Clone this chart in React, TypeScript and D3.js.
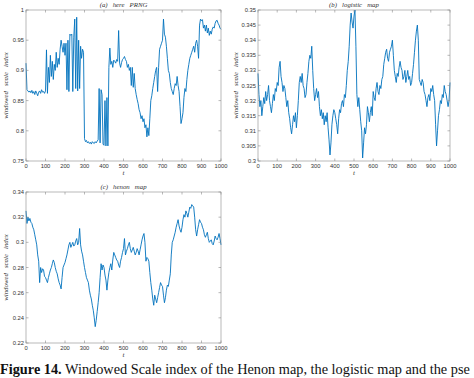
import React from "react";
import * as d3 from "d3";

const T_STEP = 5;

const prngValues = [
  0.912, 0.868, 0.866, 0.864, 0.866, 0.863, 0.867, 0.862, 0.865, 0.860,
  0.866, 0.862, 0.858, 0.864, 0.866, 0.862, 0.868, 0.864, 0.865, 0.862,
  0.866, 0.934, 0.862, 0.905, 0.880, 0.925, 0.890, 0.915, 0.885, 0.910,
  0.900, 0.930, 0.905, 0.920, 0.910, 0.935, 0.950, 0.940, 0.930, 0.945,
  0.925, 0.945, 0.868, 0.950, 0.865, 0.960, 0.958, 0.960, 0.865, 0.955,
  0.985, 0.870, 0.988, 0.866, 0.950, 0.870, 0.940, 0.920, 0.935, 0.930,
  0.787, 0.782, 0.784, 0.780, 0.782, 0.779, 0.781, 0.778, 0.782, 0.780,
  0.779, 0.782, 0.780, 0.783, 0.785, 0.870, 0.780, 0.868, 0.860, 0.778,
  0.776, 0.850, 0.775, 0.855, 0.775, 0.905, 0.937, 0.910, 0.915, 0.905,
  0.917, 0.915, 0.912, 0.918, 0.915, 0.966, 0.912, 0.905, 0.913, 0.918,
  0.920, 0.923, 0.918, 0.915, 0.905, 0.910, 0.900, 0.905, 0.875, 0.905,
  0.872, 0.895, 0.870, 0.860, 0.852, 0.845, 0.835, 0.830, 0.820, 0.825,
  0.815, 0.820, 0.805, 0.810, 0.790, 0.805, 0.792, 0.820, 0.850, 0.858,
  0.870, 0.880, 0.890, 0.900, 0.905, 0.865, 0.905, 0.935, 0.940, 0.945,
  0.950, 0.985, 0.960, 0.955, 0.940, 0.920, 0.900, 0.895, 0.880, 0.870,
  0.865, 0.860, 0.870, 0.878, 0.875, 0.890, 0.875, 0.865, 0.840, 0.812,
  0.820, 0.830, 0.855, 0.870, 0.865, 0.885, 0.900, 0.910, 0.920, 0.925,
  0.930, 0.935, 0.940, 0.930, 0.945, 0.950, 0.940, 0.920, 0.975, 0.985,
  0.982, 0.984, 0.970, 0.975, 0.965, 0.975, 0.962, 0.970, 0.958, 0.965,
  0.960, 0.968, 0.972, 0.970, 0.978, 0.982, 0.983, 0.978, 0.975, 0.970,
  0.968,
];

const logisticValues = [
  0.329, 0.322, 0.318, 0.320, 0.315, 0.318, 0.321, 0.319, 0.323, 0.320,
  0.322, 0.325, 0.320, 0.318, 0.316, 0.319, 0.322, 0.320, 0.324, 0.323,
  0.326, 0.325, 0.331, 0.333, 0.328, 0.326, 0.323, 0.325, 0.324, 0.321,
  0.318, 0.320, 0.316, 0.314, 0.311, 0.309, 0.312, 0.315, 0.313, 0.316,
  0.311, 0.315, 0.320, 0.326, 0.328, 0.326, 0.329, 0.325, 0.324, 0.321,
  0.322, 0.326, 0.329, 0.333, 0.335, 0.334, 0.338, 0.330, 0.324, 0.320,
  0.322, 0.324, 0.321, 0.323, 0.318, 0.315, 0.317, 0.314, 0.316, 0.312,
  0.315, 0.313, 0.316, 0.311, 0.307, 0.302, 0.306, 0.312, 0.315, 0.317,
  0.316, 0.314, 0.312, 0.309, 0.314, 0.317, 0.316, 0.319, 0.320, 0.318,
  0.322, 0.321, 0.325, 0.330, 0.333, 0.338, 0.345, 0.349, 0.346, 0.344,
  0.348, 0.350, 0.338, 0.322, 0.318, 0.321, 0.317, 0.313, 0.310, 0.301,
  0.306, 0.311, 0.309, 0.312, 0.318, 0.316, 0.313, 0.316, 0.318, 0.315,
  0.323, 0.321, 0.320, 0.324, 0.326, 0.323, 0.322, 0.325, 0.324, 0.327,
  0.328, 0.332, 0.334, 0.336, 0.337, 0.334, 0.333, 0.336, 0.337, 0.338,
  0.340, 0.335, 0.330, 0.328, 0.326, 0.329, 0.328, 0.331, 0.333, 0.331,
  0.330, 0.327, 0.328, 0.330, 0.326, 0.328, 0.330, 0.327, 0.328, 0.325,
  0.326, 0.329, 0.332, 0.336, 0.340, 0.343, 0.345, 0.340, 0.327, 0.326,
  0.325, 0.327, 0.326, 0.323, 0.322, 0.320, 0.318, 0.321, 0.322, 0.320,
  0.324, 0.323, 0.325, 0.322, 0.320, 0.312, 0.305, 0.310, 0.315, 0.317,
  0.320, 0.319, 0.322, 0.321, 0.325, 0.323, 0.322, 0.320, 0.318, 0.320,
  0.326,
];

const henonValues = [
  0.325, 0.315, 0.320, 0.317, 0.319, 0.316, 0.315, 0.312, 0.310, 0.306,
  0.302, 0.298, 0.290, 0.285, 0.268, 0.280, 0.276, 0.279, 0.278, 0.273,
  0.272, 0.270, 0.268, 0.272, 0.275, 0.278, 0.280, 0.283, 0.286, 0.284,
  0.280, 0.277, 0.275, 0.271, 0.268, 0.266, 0.263, 0.272, 0.280, 0.282,
  0.284, 0.287, 0.290, 0.294, 0.298, 0.300, 0.296, 0.298, 0.300, 0.297,
  0.298, 0.301, 0.303, 0.298, 0.300, 0.311, 0.298, 0.293, 0.290, 0.285,
  0.280, 0.276, 0.272, 0.270, 0.268, 0.262, 0.258, 0.255, 0.250, 0.246,
  0.240, 0.233, 0.238, 0.245, 0.252, 0.260, 0.272, 0.283, 0.278, 0.282,
  0.280, 0.274, 0.270, 0.262, 0.270, 0.276, 0.280, 0.283, 0.278, 0.286,
  0.292, 0.290, 0.288, 0.286, 0.285, 0.282, 0.280, 0.285, 0.288, 0.292,
  0.295, 0.303, 0.290, 0.293, 0.295, 0.298, 0.300, 0.295, 0.292, 0.294,
  0.296, 0.293, 0.290, 0.292, 0.295, 0.293, 0.290, 0.294, 0.298, 0.302,
  0.305, 0.307, 0.300, 0.285, 0.288, 0.287, 0.285, 0.276, 0.268, 0.262,
  0.255, 0.250, 0.258, 0.255, 0.252, 0.256, 0.260, 0.264, 0.268, 0.266,
  0.265, 0.258, 0.252, 0.256, 0.262, 0.266, 0.265, 0.270, 0.275, 0.290,
  0.300, 0.302, 0.305, 0.308, 0.312, 0.315, 0.318, 0.313, 0.310, 0.308,
  0.312, 0.318, 0.322, 0.320, 0.325, 0.323, 0.320, 0.324, 0.328, 0.327,
  0.330, 0.329, 0.328, 0.320, 0.310, 0.305, 0.310, 0.314, 0.318, 0.316,
  0.315, 0.312, 0.310, 0.306, 0.304, 0.306, 0.308, 0.303, 0.300, 0.301,
  0.302, 0.299, 0.298, 0.301, 0.305, 0.303, 0.302, 0.304, 0.307, 0.303,
  0.298,
];

const xTicks = [0, 100, 200, 300, 400, 500, 600, 700, 800, 900, 1000];
const prngYTicks = [0.75, 0.8, 0.85, 0.9, 0.95, 1];
const logisticYTicks = [0.3, 0.305, 0.31, 0.315, 0.32, 0.325, 0.33, 0.335, 0.34, 0.345, 0.35];
const henonYTicks = [0.22, 0.24, 0.26, 0.28, 0.3, 0.32, 0.34];

const LINE = "#0072BD";
const AXIS = "#8a8a8a";
const TXT = "#333";

type PanelProps = {
  left: number; right: number; top: number; bottom: number;
  values: number[]; yDomain: [number, number]; yTicks: number[];
  title: string; ylabelX: number;
};

function Panel({ left, right, top, bottom, values, yDomain, yTicks, title, ylabelX }: PanelProps) {
  const x = d3.scaleLinear().domain([0, 1000]).range([left, right]);
  const y = d3.scaleLinear().domain(yDomain).range([bottom, top]);
  const line = d3.line<number>().x((_, i) => x(i * T_STEP)).y((v) => y(v));
  const tl = 2.5;
  const fmt = (v: number) => String(+v.toFixed(3));
  return (
    <g>
      <rect x={left} y={top} width={right - left} height={bottom - top} fill="#fff" />
      <path d={line(values) || ""} fill="none" stroke={LINE} strokeWidth={0.9} strokeLinejoin="round" />
      <rect x={left} y={top} width={right - left} height={bottom - top} fill="none" stroke={AXIS} strokeWidth={0.6} />
      {xTicks.map((t) => (
        <g key={"x" + t}>
          <line x1={x(t)} x2={x(t)} y1={bottom} y2={bottom - tl} stroke={AXIS} strokeWidth={0.6} />
          <line x1={x(t)} x2={x(t)} y1={top} y2={top + tl} stroke={AXIS} strokeWidth={0.6} />
          <text x={x(t)} y={bottom + 7} fontSize={5.8} textAnchor="middle" fill={TXT} fontFamily="Liberation Sans, Arial, sans-serif">{t}</text>
        </g>
      ))}
      {yTicks.map((t) => (
        <g key={"y" + t}>
          <line x1={left} x2={left + tl} y1={y(t)} y2={y(t)} stroke={AXIS} strokeWidth={0.6} />
          <line x1={right} x2={right - tl} y1={y(t)} y2={y(t)} stroke={AXIS} strokeWidth={0.6} />
          <text x={left - 2} y={y(t) + 2} fontSize={5.8} textAnchor="end" fill={TXT} fontFamily="Liberation Sans, Arial, sans-serif">{fmt(t)}</text>
        </g>
      ))}
      <text x={(left + right) / 2} y={bottom + 13.5} fontSize={7} fontStyle="italic" textAnchor="middle" fill={TXT} fontFamily="Liberation Serif, serif">t</text>
      <text x={(left + right) / 2} y={top - 3} fontSize={6.8} fontStyle="italic" textAnchor="middle" fill={TXT} fontFamily="Liberation Serif, serif" style={{ whiteSpace: "pre" }}>{title}</text>
      <text transform={`translate(${ylabelX},${(top + bottom) / 2}) rotate(-90)`} fontSize={6.8} fontStyle="italic" textAnchor="middle" fill={TXT} fontFamily="Liberation Serif, serif" style={{ whiteSpace: "pre" }}>{"windowed   scale   index"}</text>
    </g>
  );
}

export default function App() {
  return (
    <svg width={474} height={378} style={{ position: "fixed", left: 0, top: 0, background: "#fff" }}>
      <rect width={474} height={378} fill="#fff" />
      <Panel left={26} right={221} top={10} bottom={161} values={prngValues} yDomain={[0.75, 1]} yTicks={prngYTicks} title={"(a)   here   PRNG"} ylabelX={8} />
      <Panel left={258} right={450} top={10} bottom={161} values={logisticValues} yDomain={[0.3, 0.35]} yTicks={logisticYTicks} title={"(b)   logistic   map"} ylabelX={238} />
      <Panel left={26} right={221} top={192} bottom={343} values={henonValues} yDomain={[0.22, 0.34]} yTicks={henonYTicks} title={"(c)   henon   map"} ylabelX={8} />
      <text x={0} y={374} fontSize={14.3} fill="#111" fontFamily="Liberation Serif, serif">
        <tspan fontWeight="bold">Figure 14.</tspan>
        <tspan> Windowed Scale index of the Henon map, the logistic map and the pse</tspan>
      </text>
    </svg>
  );
}
